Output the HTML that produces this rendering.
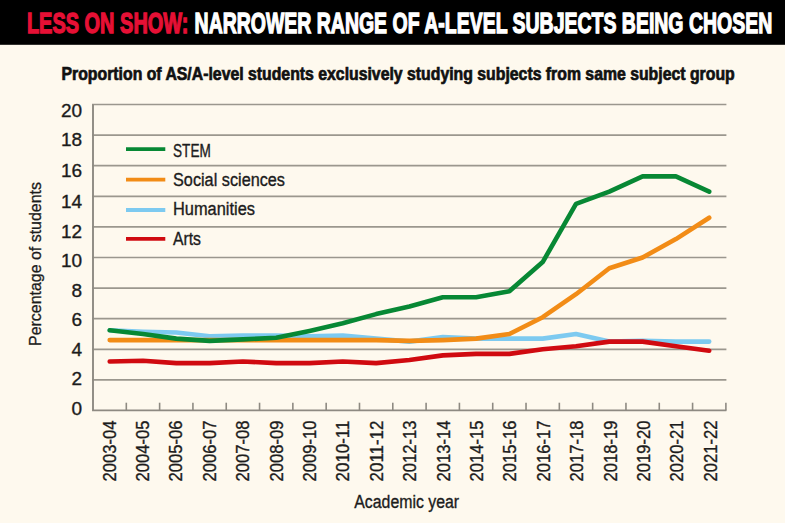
<!DOCTYPE html>
<html><head><meta charset="utf-8"><style>
html,body{margin:0;padding:0;width:785px;height:523px;overflow:hidden;background:#fef9ee;}
svg{display:block;}
.lab{font-family:"Liberation Sans",sans-serif;font-size:18px;fill:#1c1c1c;stroke:#1c1c1c;stroke-width:0.35px;}
.xlab{font-family:"Liberation Sans",sans-serif;font-size:19px;fill:#1c1c1c;stroke:#1c1c1c;stroke-width:0.35px;}
.atit{font-family:"Liberation Sans",sans-serif;font-size:17px;fill:#1c1c1c;stroke:#1c1c1c;stroke-width:0.3px;}
.ylab{font-family:"Liberation Sans",sans-serif;font-size:19px;fill:#1c1c1c;stroke:#1c1c1c;stroke-width:0.35px;}
.title{font-family:"Liberation Sans",sans-serif;font-weight:bold;font-size:28.6px;}
.sub{font-family:"Liberation Sans",sans-serif;font-weight:bold;font-size:18.2px;fill:#111;stroke:#111;stroke-width:0.7px;}
</style></head><body>
<svg width="785" height="523" viewBox="0 0 785 523">
<line x1="92" y1="379.90" x2="726.4" y2="379.90" stroke="#9b978e" stroke-width="1.7"/>
<line x1="92" y1="349.30" x2="726.4" y2="349.30" stroke="#9b978e" stroke-width="1.7"/>
<line x1="92" y1="318.70" x2="726.4" y2="318.70" stroke="#9b978e" stroke-width="1.7"/>
<line x1="92" y1="288.10" x2="726.4" y2="288.10" stroke="#9b978e" stroke-width="1.7"/>
<line x1="92" y1="257.50" x2="726.4" y2="257.50" stroke="#9b978e" stroke-width="1.7"/>
<line x1="92" y1="226.90" x2="726.4" y2="226.90" stroke="#9b978e" stroke-width="1.7"/>
<line x1="92" y1="196.30" x2="726.4" y2="196.30" stroke="#9b978e" stroke-width="1.7"/>
<line x1="92" y1="165.70" x2="726.4" y2="165.70" stroke="#9b978e" stroke-width="1.7"/>
<line x1="92" y1="135.10" x2="726.4" y2="135.10" stroke="#9b978e" stroke-width="1.7"/>
<line x1="92" y1="104.50" x2="726.4" y2="104.50" stroke="#9b978e" stroke-width="1.7"/>
<path d="M93 104.5 V410.4 H726.4" fill="none" stroke="#8e8a82" stroke-width="1.9"/>
<line x1="126.31" y1="402.7" x2="126.31" y2="410.4" stroke="#8e8a82" stroke-width="1.6"/>
<line x1="159.62" y1="402.7" x2="159.62" y2="410.4" stroke="#8e8a82" stroke-width="1.6"/>
<line x1="192.93" y1="402.7" x2="192.93" y2="410.4" stroke="#8e8a82" stroke-width="1.6"/>
<line x1="226.24" y1="402.7" x2="226.24" y2="410.4" stroke="#8e8a82" stroke-width="1.6"/>
<line x1="259.55" y1="402.7" x2="259.55" y2="410.4" stroke="#8e8a82" stroke-width="1.6"/>
<line x1="292.86" y1="402.7" x2="292.86" y2="410.4" stroke="#8e8a82" stroke-width="1.6"/>
<line x1="326.17" y1="402.7" x2="326.17" y2="410.4" stroke="#8e8a82" stroke-width="1.6"/>
<line x1="359.48" y1="402.7" x2="359.48" y2="410.4" stroke="#8e8a82" stroke-width="1.6"/>
<line x1="392.79" y1="402.7" x2="392.79" y2="410.4" stroke="#8e8a82" stroke-width="1.6"/>
<line x1="426.10" y1="402.7" x2="426.10" y2="410.4" stroke="#8e8a82" stroke-width="1.6"/>
<line x1="459.41" y1="402.7" x2="459.41" y2="410.4" stroke="#8e8a82" stroke-width="1.6"/>
<line x1="492.72" y1="402.7" x2="492.72" y2="410.4" stroke="#8e8a82" stroke-width="1.6"/>
<line x1="526.03" y1="402.7" x2="526.03" y2="410.4" stroke="#8e8a82" stroke-width="1.6"/>
<line x1="559.34" y1="402.7" x2="559.34" y2="410.4" stroke="#8e8a82" stroke-width="1.6"/>
<line x1="592.65" y1="402.7" x2="592.65" y2="410.4" stroke="#8e8a82" stroke-width="1.6"/>
<line x1="625.96" y1="402.7" x2="625.96" y2="410.4" stroke="#8e8a82" stroke-width="1.6"/>
<line x1="659.27" y1="402.7" x2="659.27" y2="410.4" stroke="#8e8a82" stroke-width="1.6"/>
<line x1="692.58" y1="402.7" x2="692.58" y2="410.4" stroke="#8e8a82" stroke-width="1.6"/>
<line x1="725.89" y1="402.7" x2="725.89" y2="410.4" stroke="#8e8a82" stroke-width="1.6"/>
<text x="82.1" y="414.7" text-anchor="end" class="ylab">0</text>
<text x="82.1" y="385.0" text-anchor="end" class="ylab">2</text>
<text x="82.1" y="355.7" text-anchor="end" class="ylab">4</text>
<text x="82.1" y="326.1" text-anchor="end" class="ylab">6</text>
<text x="82.1" y="296.5" text-anchor="end" class="ylab">8</text>
<text x="82.1" y="266.9" text-anchor="end" class="ylab">10</text>
<text x="82.1" y="237.6" text-anchor="end" class="ylab">12</text>
<text x="82.1" y="208.3" text-anchor="end" class="ylab">14</text>
<text x="82.1" y="177.2" text-anchor="end" class="ylab">16</text>
<text x="82.1" y="146.2" text-anchor="end" class="ylab">18</text>
<text x="82.1" y="116.7" text-anchor="end" class="ylab">20</text>
<text transform="translate(115.65,420.6) rotate(-90)" x="0" y="0" text-anchor="end" class="xlab" textLength="60.8" lengthAdjust="spacingAndGlyphs">2003-04</text>
<text transform="translate(149.05,420.6) rotate(-90)" x="0" y="0" text-anchor="end" class="xlab" textLength="60.8" lengthAdjust="spacingAndGlyphs">2004-05</text>
<text transform="translate(182.45,420.6) rotate(-90)" x="0" y="0" text-anchor="end" class="xlab" textLength="60.8" lengthAdjust="spacingAndGlyphs">2005-06</text>
<text transform="translate(215.85,420.6) rotate(-90)" x="0" y="0" text-anchor="end" class="xlab" textLength="60.8" lengthAdjust="spacingAndGlyphs">2006-07</text>
<text transform="translate(249.25,420.6) rotate(-90)" x="0" y="0" text-anchor="end" class="xlab" textLength="60.8" lengthAdjust="spacingAndGlyphs">2007-08</text>
<text transform="translate(282.65,420.6) rotate(-90)" x="0" y="0" text-anchor="end" class="xlab" textLength="60.8" lengthAdjust="spacingAndGlyphs">2008-09</text>
<text transform="translate(316.05,420.6) rotate(-90)" x="0" y="0" text-anchor="end" class="xlab" textLength="60.8" lengthAdjust="spacingAndGlyphs">2009-10</text>
<text transform="translate(349.45,420.6) rotate(-90)" x="0" y="0" text-anchor="end" class="xlab" textLength="60.8" lengthAdjust="spacingAndGlyphs">2010-11</text>
<text transform="translate(382.85,420.6) rotate(-90)" x="0" y="0" text-anchor="end" class="xlab" textLength="60.8" lengthAdjust="spacingAndGlyphs">2011-12</text>
<text transform="translate(416.25,420.6) rotate(-90)" x="0" y="0" text-anchor="end" class="xlab" textLength="60.8" lengthAdjust="spacingAndGlyphs">2012-13</text>
<text transform="translate(449.65,420.6) rotate(-90)" x="0" y="0" text-anchor="end" class="xlab" textLength="60.8" lengthAdjust="spacingAndGlyphs">2013-14</text>
<text transform="translate(483.05,420.6) rotate(-90)" x="0" y="0" text-anchor="end" class="xlab" textLength="60.8" lengthAdjust="spacingAndGlyphs">2014-15</text>
<text transform="translate(516.45,420.6) rotate(-90)" x="0" y="0" text-anchor="end" class="xlab" textLength="60.8" lengthAdjust="spacingAndGlyphs">2015-16</text>
<text transform="translate(549.85,420.6) rotate(-90)" x="0" y="0" text-anchor="end" class="xlab" textLength="60.8" lengthAdjust="spacingAndGlyphs">2016-17</text>
<text transform="translate(583.25,420.6) rotate(-90)" x="0" y="0" text-anchor="end" class="xlab" textLength="60.8" lengthAdjust="spacingAndGlyphs">2017-18</text>
<text transform="translate(616.65,420.6) rotate(-90)" x="0" y="0" text-anchor="end" class="xlab" textLength="60.8" lengthAdjust="spacingAndGlyphs">2018-19</text>
<text transform="translate(650.05,420.6) rotate(-90)" x="0" y="0" text-anchor="end" class="xlab" textLength="60.8" lengthAdjust="spacingAndGlyphs">2019-20</text>
<text transform="translate(683.45,420.6) rotate(-90)" x="0" y="0" text-anchor="end" class="xlab" textLength="60.8" lengthAdjust="spacingAndGlyphs">2020-21</text>
<text transform="translate(716.85,420.6) rotate(-90)" x="0" y="0" text-anchor="end" class="xlab" textLength="60.8" lengthAdjust="spacingAndGlyphs">2021-22</text>
<polyline points="109.7,330.2 143.0,331.7 176.3,332.5 209.6,336.3 242.9,335.5 276.2,335.5 309.5,336.3 342.8,335.5 376.1,338.6 409.4,341.6 442.8,337.1 476.1,338.6 509.4,338.6 542.7,338.6 576.0,334.0 609.3,341.6 642.6,340.9 675.9,341.6 709.2,341.6" fill="none" stroke="#7dcaf0" stroke-width="4.6" stroke-linejoin="round" stroke-linecap="round"/>
<polyline points="109.7,340.1 143.0,340.1 176.3,340.1 209.6,340.1 242.9,340.1 276.2,340.1 309.5,340.1 342.8,340.1 376.1,340.1 409.4,340.9 442.8,340.1 476.1,338.6 509.4,334.0 542.7,317.2 576.0,294.2 609.3,268.2 642.6,257.5 675.9,239.1 709.2,217.7" fill="none" stroke="#f28c16" stroke-width="4.6" stroke-linejoin="round" stroke-linecap="round"/>
<polyline points="109.7,361.5 143.0,360.8 176.3,363.1 209.6,363.1 242.9,361.5 276.2,363.1 309.5,363.1 342.8,361.5 376.1,363.1 409.4,360.0 442.8,355.4 476.1,353.9 509.4,353.9 542.7,349.3 576.0,346.2 609.3,341.6 642.6,341.6 675.9,346.2 709.2,350.8" fill="none" stroke="#d00a10" stroke-width="4.6" stroke-linejoin="round" stroke-linecap="round"/>
<polyline points="109.7,330.2 143.0,334.0 176.3,338.6 209.6,340.9 242.9,339.4 276.2,337.8 309.5,330.9 342.8,323.3 376.1,314.1 409.4,306.5 442.8,297.3 476.1,297.3 509.4,291.2 542.7,262.1 576.0,203.9 609.3,191.7 642.6,176.4 675.9,176.4 709.2,191.7" fill="none" stroke="#078834" stroke-width="4.6" stroke-linejoin="round" stroke-linecap="round"/>
<line x1="126" y1="149.1" x2="165.3" y2="149.1" stroke="#078834" stroke-width="3.8"/>
<text x="173" y="156.8" class="lab" textLength="37.8" lengthAdjust="spacingAndGlyphs">STEM</text>
<line x1="126" y1="179.6" x2="165.3" y2="179.6" stroke="#f28c16" stroke-width="3.8"/>
<text x="173" y="186.3" class="lab" textLength="112" lengthAdjust="spacingAndGlyphs">Social sciences</text>
<line x1="126" y1="210.0" x2="165.3" y2="210.0" stroke="#7dcaf0" stroke-width="3.8"/>
<text x="173" y="215.4" class="lab" textLength="82" lengthAdjust="spacingAndGlyphs">Humanities</text>
<line x1="126" y1="238.9" x2="165.3" y2="238.9" stroke="#d00a10" stroke-width="3.8"/>
<text x="173" y="244.6" class="lab" textLength="28" lengthAdjust="spacingAndGlyphs">Arts</text>
<text transform="translate(41.3,346) rotate(-90)" class="atit" textLength="164" lengthAdjust="spacingAndGlyphs">Percentage of students</text>
<text x="354.3" y="507.8" class="lab" textLength="104.8" lengthAdjust="spacingAndGlyphs">Academic year</text>
<rect x="0" y="0" width="785" height="44.8" fill="#000"/>
<text x="26.9" y="33.0" class="title" fill="#e61035" stroke="#e61035" stroke-width="1.3" textLength="161.6" lengthAdjust="spacingAndGlyphs">LESS ON SHOW:</text>
<text x="194.6" y="33.0" class="title" fill="#fff" stroke="#fff" stroke-width="1.3" textLength="577.6" lengthAdjust="spacingAndGlyphs">NARROWER RANGE OF A-LEVEL SUBJECTS BEING CHOSEN</text>
<text x="61.5" y="80.2" class="sub" textLength="673.2" lengthAdjust="spacingAndGlyphs">Proportion of AS/A-level students exclusively studying subjects from same subject group</text>
</svg>
</body></html>
